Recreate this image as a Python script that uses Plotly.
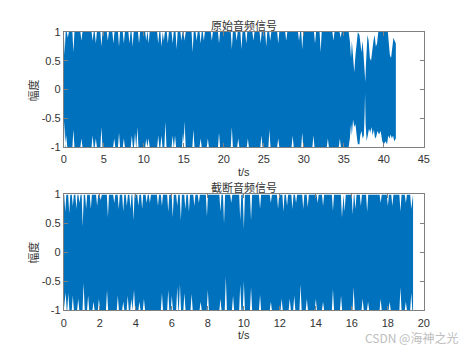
import plotly.graph_objects as go

# ---------------- data ----------------
# Original signal: envelope clips at +/-1, with places where it doesn't reach.
orig_end = 41.5
orig_up_dip_t = [0.1, 0.5, 1.2, 2.2, 3.6, 4.0, 4.7, 5.5, 6.2, 6.9,
                 7.5, 8.2, 8.6, 9.4, 10.3, 10.6, 11.8, 12.2, 12.5, 13.0,
                 13.6, 14.1, 14.7, 15.1, 16.1, 16.6, 17.1, 17.5, 18.5, 19.4,
                 21.0, 21.6, 22.2, 22.8, 23.7, 24.6, 25.3, 25.8, 26.8, 27.8,
                 29.4, 29.8, 31.4, 32.1, 33.7, 34.6]
orig_up_dip_v = [0.6, 0.9, 0.65, 0.85, 0.85, 0.8, 0.75, 0.85, 0.8, 0.75,
                 0.8, 0.8, 0.75, 0.8, 0.85, 0.8, 0.8, 0.75, 0.85, 0.8,
                 0.8, 0.7, 0.85, 0.85, 0.65, 0.85, 0.8, 0.85, 0.85, 0.8,
                 0.7, 0.85, 0.7, 0.8, 0.85, 0.8, 0.75, 0.85, 0.8, 0.85,
                 0.85, 0.7, 0.8, 0.65, 0.85, 0.9]
orig_lo_dip_t = [0.1, 0.3, 1.2, 2.2, 3.6, 4.0, 4.7, 6.3, 6.9, 7.5,
                 8.5, 8.9, 9.2, 10.3, 10.6, 11.8, 12.2, 12.7, 13.6, 13.9,
                 14.9, 15.1, 16.2, 17.1, 18.0, 19.4, 21.0, 21.8, 23.0, 24.7,
                 25.7, 26.8, 28.6, 29.8, 31.2, 33.0, 34.5]
orig_lo_dip_v = [-0.55, -0.8, -0.7, -0.85, -0.8, -0.85, -0.65, -0.85, -0.75, -0.85,
                 -0.8, -0.75, -0.65, -0.85, -0.85, -0.8, -0.8, -0.56, -0.8, -0.8,
                 -0.75, -0.55, -0.7, -0.85, -0.85, -0.75, -0.65, -0.85, -0.85, -0.8,
                 -0.7, -0.85, -0.8, -0.75, -0.8, -0.85, -0.85]
# last seconds of the original signal (quieter, ragged envelope)
orig_tail_up_t = [35.6, 35.75, 35.9, 36.0, 36.1, 36.3, 36.45, 36.6, 36.75, 36.95,
                  37.05, 37.2, 37.35, 37.5, 37.6, 37.68, 37.75, 37.85, 37.95, 38.1,
                  38.25, 38.4, 38.55, 38.7, 38.85, 39.0, 39.15, 39.3, 40.5, 40.6,
                  40.75, 40.9, 41.05, 41.2, 41.35, 41.5]
orig_tail_up_v = [1.0, 0.85, 0.55, 0.85, 0.6, 0.3, 0.6, 0.85, 1.0, 0.95,
                  0.8, 0.65, 0.85, 0.55, 0.35, 0.13, 0.4, 0.8, 0.95, 0.85,
                  0.55, 0.5, 0.7, 0.85, 0.95, 0.75, 0.8, 1.0, 1.0, 0.8,
                  0.6, 0.55, 0.7, 0.9, 0.85, 0.8]
orig_tail_lo_t = [35.6, 35.75, 35.9, 36.0, 36.15, 36.3, 36.45, 36.6, 36.75, 36.95,
                  37.05, 37.2, 37.35, 37.5, 37.6, 37.65, 37.72, 37.85, 38.0, 38.15,
                  38.3, 38.45, 38.6, 38.75, 38.9, 39.05, 39.2, 39.4, 39.6, 39.8,
                  40.0, 40.2, 40.4, 40.55, 40.7, 40.85, 41.0, 41.15, 41.3, 41.5]
orig_tail_lo_v = [-1.0, -0.85, -0.6, -0.8, -0.52, -0.65, -0.6, -0.8, -0.95, -0.95,
                  -0.8, -0.72, -0.85, -0.8, -0.4, -0.07, -0.6, -0.9, -0.8, -0.68,
                  -0.75, -0.65, -0.8, -0.7, -0.85, -0.82, -0.72, -0.78, -0.72, -0.9,
                  -0.95, -0.9, -0.95, -0.8, -0.85, -0.78, -0.85, -0.8, -0.9, -0.85]

# Truncated signal
cut_end = 19.4
cut_up_dip_t = [0.08, 0.3, 0.5, 0.7, 0.87, 1.05, 1.24, 1.5, 1.85, 2.05,
                2.45, 2.8, 3.05, 3.3, 3.5, 3.7, 3.87, 4.14, 4.35, 4.6,
                4.78, 5.23, 5.45, 5.8, 6.05, 6.3, 6.5, 6.75, 6.95, 7.25,
                7.5, 7.95, 8.7, 8.9, 9.3, 9.8, 10.0, 10.4, 10.9, 11.5,
                11.9, 12.2, 12.4, 12.7, 12.9, 13.3, 13.55, 14.1, 14.4, 14.95,
                15.45, 15.6, 16.05, 16.2, 16.5, 16.85, 17.6, 18.0, 18.25, 18.7,
                19.0, 19.3]
cut_up_dip_v = [0.7, 0.67, 0.8, 0.75, 0.85, 0.45, 0.75, 0.75, 0.8, 0.9,
                0.6, 0.85, 0.75, 0.7, 0.8, 0.75, 0.55, 0.8, 0.75, 0.85,
                0.85, 0.8, 0.8, 0.7, 0.6, 0.8, 0.55, 0.75, 0.7, 0.8,
                0.85, 0.62, 0.7, 0.5, 0.85, 0.55, 0.4, 0.55, 0.75, 0.85,
                0.75, 0.7, 0.8, 0.75, 0.85, 0.75, 0.78, 0.85, 0.8, 0.72,
                0.6, 0.7, 0.65, 0.75, 0.8, 0.7, 0.85, 0.8, 0.8, 0.7,
                0.85, 0.75]
cut_lo_dip_t = [0.1, 0.25, 0.5, 0.8, 1.1, 1.35, 1.65, 1.95, 2.4, 3.0,
                3.3, 3.55, 3.75, 3.9, 4.2, 4.45, 5.45, 5.8, 6.0, 6.3,
                6.45, 6.7, 7.1, 7.6, 8.0, 8.7, 9.0, 9.4, 9.8, 10.0,
                10.4, 10.9, 11.5, 12.1, 12.55, 12.8, 13.15, 13.5, 14.0, 14.4,
                14.95, 15.4, 16.1, 16.6, 16.9, 17.6, 18.1, 18.7, 19.0, 19.3]
cut_lo_dip_v = [-0.69, -0.7, -0.75, -0.8, -0.53, -0.75, -0.85, -0.8, -0.65, -0.75,
                -0.85, -0.75, -0.8, -0.65, -0.85, -0.8, -0.7, -0.65, -0.75, -0.6,
                -0.55, -0.7, -0.72, -0.85, -0.65, -0.8, -0.42, -0.75, -0.55, -0.5,
                -0.6, -0.73, -0.85, -0.8, -0.8, -0.75, -0.55, -0.8, -0.8, -0.85,
                -0.63, -0.75, -0.6, -0.8, -0.85, -0.8, -0.85, -0.6, -0.85, -0.7]

orig_xticks = [0, 5, 10, 15, 20, 25, 30, 35, 40, 45]
cut_xticks = [0, 2, 4, 6, 8, 10, 12, 14, 16, 18, 20]
yticks = [-1, -0.5, 0, 0.5, 1]
ytick_text = ["-1", "-0.5", "0", "0.5", "1"]


def edge(level, dip_t, dip_v, half, end, tail_t=(), tail_v=()):
    """Envelope polyline: clipped at `level`, with a narrow notch at every dip."""
    xs, ys = [0.0], [level]
    for t, v in sorted(zip(dip_t, dip_v)):
        xs += [max(t - half, 0.0), t, min(t + half, end)]
        ys += [level, v, level]
    if len(tail_t):
        xs += list(tail_t)
        ys += list(tail_v)
    else:
        xs.append(end)
        ys.append(level)
    return xs, ys


def band(up, lo):
    xu, yu = up
    xl, yl = lo
    return xu + xl[::-1] + [xu[0]], yu + yl[::-1] + [yu[0]]


ox, oy = band(edge(1.0, orig_up_dip_t, orig_up_dip_v, 0.13, orig_end,
                   orig_tail_up_t, orig_tail_up_v),
              edge(-1.0, orig_lo_dip_t, orig_lo_dip_v, 0.13, orig_end,
                   orig_tail_lo_t, orig_tail_lo_v))
cx, cy = band(edge(1.0, cut_up_dip_t, cut_up_dip_v, 0.06, cut_end),
              edge(-1.0, cut_lo_dip_t, cut_lo_dip_v, 0.06, cut_end))

BLUE = "#0072BD"
fig = go.Figure()
fig.add_trace(go.Scatter(x=ox, y=oy, mode="lines", fill="toself", fillcolor=BLUE,
                         line=dict(color=BLUE, width=0), xaxis="x", yaxis="y",
                         showlegend=False, hoverinfo="skip"))
fig.add_trace(go.Scatter(x=cx, y=cy, mode="lines", fill="toself", fillcolor=BLUE,
                         line=dict(color=BLUE, width=0), xaxis="x2", yaxis="y2",
                         showlegend=False, hoverinfo="skip"))

W, H = 474, 355
xd = [62 / W, 429 / W]
top_dom = [(H - 146) / H, (H - 27) / H]
bot_dom = [(H - 315) / H, (H - 195) / H]

tick_font = dict(family="Liberation Sans, Arial, sans-serif", size=11, color="#333333")
axis_common = dict(showgrid=False, zeroline=False, showline=True, linecolor="#808080",
                   linewidth=1, mirror="ticks", ticks="inside", ticklen=4,
                   tickcolor="#808080", tickfont=tick_font)

fig.update_layout(
    width=W, height=H, autosize=False,
    margin=dict(l=0, r=0, t=0, b=0),
    paper_bgcolor="white", plot_bgcolor="white",
    xaxis=dict(domain=xd, anchor="y", range=[0, 45], tickvals=orig_xticks,
               ticklabelstandoff=2, **axis_common),
    yaxis=dict(domain=top_dom, anchor="x", range=[-1, 1], tickvals=yticks,
               ticktext=ytick_text, **axis_common),
    xaxis2=dict(domain=xd, anchor="y2", range=[0, 20], tickvals=cut_xticks,
                ticklabelstandoff=2, **axis_common),
    yaxis2=dict(domain=bot_dom, anchor="x2", range=[-1, 1], tickvals=yticks,
                ticktext=ytick_text, **axis_common),
)

cjk = "Noto Sans CJK SC"
ann_font = dict(family=cjk, size=11, color="#333333")
lat_font = dict(family="Liberation Sans, Arial, sans-serif", size=11, color="#333333")
xc = (62 + 429) / 2 / W
annotations = [
    dict(text="原始音频信号", x=xc, y=(H - 20) / H, font=ann_font),
    dict(text="截断音频信号", x=xc, y=(H - 187) / H, font=ann_font),
    dict(text="幅度", x=31 / W, y=(H - 87) / H, textangle=-90, font=ann_font),
    dict(text="幅度", x=31 / W, y=(H - 255) / H, textangle=-90, font=ann_font),
    dict(text="t/s", x=xc, y=(H - 172) / H, font=lat_font),
    dict(text="t/s", x=xc, y=(H - 341) / H, font=lat_font),
    dict(text="CSDN @海神之光", x=465 / W, y=(H - 343) / H, xanchor="right",
         borderpad=0,
         font=dict(family="Noto Sans CJK SC, Liberation Sans", size=12, color="#bdbdbd")),
]
for a in annotations:
    a.setdefault("xanchor", "center")
    a.update(xref="paper", yref="paper", yanchor="middle", showarrow=False)
fig.update_layout(annotations=annotations)

fig.write_html("out.html")
